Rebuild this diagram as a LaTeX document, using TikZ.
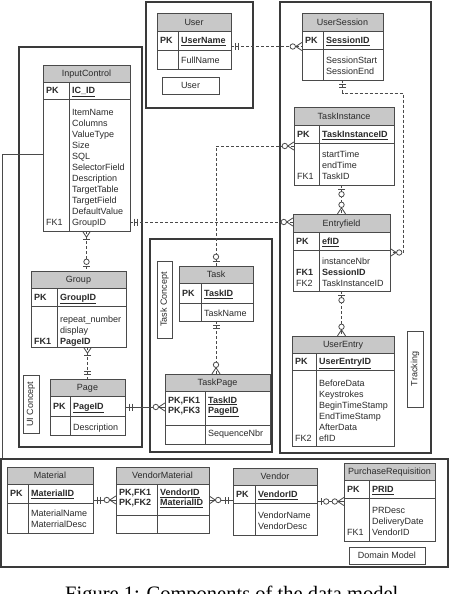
\documentclass[tikz,border=0pt]{standalone}
\usepackage{fontspec}
\setmainfont{Liberation Sans}
\newfontfamily\capfont{Liberation Serif}
\usepackage{graphicx}
\usetikzlibrary{fit,calc}
\definecolor{lc}{HTML}{4A4A4A}
\definecolor{hdr}{HTML}{C8C8C8}
\definecolor{cc}{HTML}{3A3A3A}
\definecolor{tc}{HTML}{2A2A2A}
\tikzset{
  eln/.style={draw=lc, line width=0.8pt},
  erl/.style={draw=lc, line width=0.8pt},
  dl/.style={draw=lc, line width=0.8pt, dash pattern=on 3pt off 2pt},
  sl/.style={draw=lc, line width=0.8pt},
  cont/.style={draw=cc, line width=1.2pt, inner sep=0pt},
  lbox/.style={draw=lc, line width=0.8pt, fill=white, inner sep=0pt, text=tc, font=\fontsize{9}{11}\selectfont},
  ttl/.style={inner sep=0pt, text=tc, font=\fontsize{9}{11}\selectfont},
  attr/.style={inner sep=0pt, text=tc, align=left, font=\fontsize{9}{11}\selectfont},
  keyt/.style={inner sep=0pt, text=tc, font=\bfseries\fontsize{9}{10}\selectfont},
  mone/.pic={\draw[erl] (4,-3.5)--(4,3.5) (7,-3.5)--(7,3.5);},
  zone/.pic={\draw[erl] (4,-3.5)--(4,3.5); \draw[erl,fill=white] (9,0) circle (2.7pt);},
  zmany/.pic={\draw[erl] (0,-4)--(6,0)--(0,4); \draw[erl,fill=white] (9,0) circle (2.7pt);},
  omany/.pic={\draw[erl] (0,-4)--(6,0)--(0,4); \draw[erl] (8,-3.5)--(8,3.5);},
}
\newcommand\erent[9]{%
  \node[inner sep=0pt, fit={(#2,#3)(#4,#5)}] (#1) {};
  \fill[hdr] (#2,#3) rectangle (#4,#6);
  \draw[eln] (#2,#6) -- (#4,#6) (#2,#7) -- (#4,#7) (#8,#6) -- (#8,#5);
  \draw[eln] (#2,#3) rectangle (#4,#5);
  \node[ttl, anchor=base] at ({(#2+#4)/2},{(#3+#6)/2+3.3}) {#9};
}
\newcommand\keyrow[5]{%
  \node[keyt, anchor=base west] at ({#1+3},{#3+3.3}) {#4};
  \node[keyt, anchor=base west] at ({#2+3},{#3+3.3}) {#5};
}
\newcommand\keytwo[5]{%
  \node[keyt, align=left, anchor=north west] at ({#1+3},{#3-3.7}) {\strut #4};
  \node[keyt, align=left, anchor=north west] at ({#2+3},{#3-3.7}) {\strut #5};
}
\newcommand\attrs[3]{\node[attr, anchor=north west] at (#1,{#2-4.4}) {\strut #3};}
\newcommand\fk[3]{\node[attr, anchor=base west] at (#1,{#2+3.3}) {#3};}
\begin{document}
\begin{tikzpicture}[x=1pt,y=-1pt]
\fill[white] (0,0) rectangle (474,594);
\useasboundingbox (0,0) rectangle (474,594);

% containers
\node[cont, fit={(146,2)(253,108)}] (cUser) {};
\node[cont, fit={(280,2)(431,453)}] (cTrack) {};
\node[cont, fit={(19,47)(142,447)}] (cUI) {};
\node[cont, fit={(150,239)(272,452)}] (cTask) {};
\node[cont, fit={(1,459)(448,567)}] (cDom) {};

% container labels
\node[lbox, minimum width=57pt, minimum height=17pt] (lUser) at (190.5,85.5) {User};
\node[lbox, minimum width=16pt, minimum height=76pt] (lTrack) at (415,369) {\rotatebox{90}{Tracking}};
\node[lbox, minimum width=16pt, minimum height=58pt] (lUI) at (31,404) {\rotatebox{90}{UI Concept}};
\node[lbox, minimum width=15pt, minimum height=77pt] (lTask) at (164.5,299.5) {\rotatebox{90}{Task Concept}};
\node[lbox, minimum width=76pt, minimum height=17pt] (lDom) at (387,555.5) {Domain Model};

% entities
\erent{user}{157}{13}{231}{69}{31}{50}{178}{User}
\keyrow{157}{178}{40.5}{PK}{\underline{UserName}}
\attrs{181}{60}{FullName}

\erent{us}{302}{13}{383}{80}{31}{49}{323}{UserSession}
\keyrow{302}{323}{40}{PK}{\underline{SessionID}}
\attrs{326}{60}{SessionStart\\SessionEnd}

\erent{ti}{294}{107}{394}{185}{125}{143}{319}{TaskInstance}
\keyrow{294}{319}{134}{PK}{\underline{TaskInstanceID}}
\attrs{322}{154}{startTime\\endTime\\TaskID}
\fk{297}{176}{FK1}

\erent{ef}{293}{214}{390}{291}{232}{250}{319}{Entryfield}
\keyrow{293}{319}{241}{PK}{\underline{efID}}
\attrs{322}{261}{instanceNbr\\\textbf{SessionID}\\TaskInstanceID}
\fk{296}{272}{\textbf{FK1}}
\fk{296}{283}{FK2}

\erent{ue}{292}{336}{394}{446}{353}{370}{316}{UserEntry}
\keyrow{292}{316}{361.5}{PK}{\underline{UserEntryID}}
\attrs{319}{383}{BeforeData\\Keystrokes\\BeginTimeStamp\\EndTimeStamp\\AfterData\\efID}
\fk{295}{438}{FK2}

\erent{ic}{43}{65}{130}{231}{82}{99}{69}{InputControl}
\keyrow{43}{69}{90.5}{PK}{\underline{IC\_ID}}
\attrs{72}{112}{ItemName\\Columns\\ValueType\\Size\\SQL\\SelectorField\\Description\\TargetTable\\TargetField\\DefaultValue\\GroupID}
\fk{46}{222}{FK1}

\erent{grp}{31}{271}{126}{347}{288}{306}{57}{Group}
\keyrow{31}{57}{297}{PK}{\underline{GroupID}}
\attrs{60}{319}{repeat\_number\\display\\\textbf{PageID}}
\fk{34}{341}{\textbf{FK1}}

\erent{page}{50}{379}{125}{435}{396}{416}{70}{Page}
\keyrow{50}{70}{406}{PK}{\underline{PageID}}
\attrs{73}{427}{Description}

\erent{task}{179}{266}{253}{321}{283}{303}{201}{Task}
\keyrow{179}{201}{293}{PK}{\underline{TaskID}}
\attrs{204}{313}{TaskName}

\erent{tp}{165}{374}{270}{444}{391}{425}{205}{TaskPage}
\keytwo{165}{205}{399.5}{PK,FK1\\PK,FK3}{\underline{TaskID}\\\underline{PageID}}
\attrs{208}{433}{SequenceNbr}

\erent{mat}{7}{467}{93}{533}{484}{503}{28}{Material}
\keyrow{7}{28}{493.5}{PK}{\underline{MaterialID}}
\attrs{31}{513}{MaterialName\\MaterrialDesc}

\erent{vm}{116}{467}{209}{533}{484}{515}{157}{VendorMaterial}
\keytwo{116}{157}{492}{PK,FK1\\PK,FK2}{\underline{VendorID}\\\underline{MaterialID}}

\erent{ven}{233}{468}{317}{535}{485}{503}{255}{Vendor}
\keyrow{233}{255}{494}{PK}{\underline{VendorID}}
\attrs{258}{515}{VendorName\\VendorDesc}

\erent{pr}{344}{463}{435}{541}{480}{498}{369}{PurchaseRequisition}
\keyrow{344}{369}{489}{PK}{\underline{PRID}}
\attrs{372}{510}{PRDesc\\DeliveryDate\\VendorID}
\fk{347}{532}{FK1}

% connectors
\draw[dl] (user.east |- us.west) -- (us.west);
\pic at (user.east |- us.west) {mone};
\pic[rotate=180] at (us.west) {zmany};

\coordinate (k1) at (403,93);
\draw[dl] (us.south) |- (k1) |- (ef.east);
\pic[rotate=270] at (us.south) {mone};
\pic at (ef.east) {zmany};

\draw[dl] (ef.north |- ti.south) -- (ef.north);
\pic[rotate=270] at (ef.north |- ti.south) {zone};
\pic[rotate=90] at (ef.north) {zmany};

\draw[dl] (task.north) |- (ti.west);
\pic[rotate=90] at (task.north) {zone};
\pic[rotate=180] at (ti.west) {zmany};

\coordinate (h5) at (0,222);
\draw[dl] (ic.east |- h5) -- (ef.west |- h5);
\pic at (ic.east |- h5) {mone};
\pic[rotate=180] at (ef.west |- h5) {zmany};

\draw[dl] (ic.south) -- (ic.south |- grp.north);
\pic[rotate=270] at (ic.south) {omany};
\pic[rotate=90] at (ic.south |- grp.north) {zone};

\draw[dl] (page.north |- grp.south) -- (page.north);
\pic[rotate=270] at (page.north |- grp.south) {omany};
\pic[rotate=90] at (page.north) {mone};

\draw[sl] (page.east) -- (page.east -| tp.west);
\pic at (page.east) {mone};
\pic[rotate=180] at (page.east -| tp.west) {zmany};

\draw[dl] (task.south) -- (task.south |- tp.north);
\pic[rotate=270] at (task.south) {mone};
\pic[rotate=90] at (task.south |- tp.north) {zmany};

\draw[dl] (ef.south) -- (ef.south |- ue.north);
\pic[rotate=270] at (ef.south) {zone};
\pic[rotate=90] at (ef.south |- ue.north) {zmany};

\coordinate (h11) at (0,154);
\draw[sl] (ic.west |- h11) -| ([xshift=2pt]cDom.north west);

\draw[sl] (mat.east) -- (mat.east -| vm.west);
\pic at (mat.east) {mone};
\pic[rotate=180] at (mat.east -| vm.west) {zmany};

\draw[sl] (vm.east) -- (vm.east -| ven.west);
\pic at (vm.east) {zmany};
\pic[rotate=180] at (vm.east -| ven.west) {mone};

\draw[sl] (ven.east) -- (ven.east -| pr.west);
\pic at (ven.east) {zone};
\pic[rotate=180] at (ven.east -| pr.west) {zmany};

% caption (cut by the page edge)
\node[inner sep=0pt, anchor=base west, text=black, font=\capfont\fontsize{20.5}{24}\selectfont] (cap) at (65,600) {Figure 1: Components of the data model};
\end{tikzpicture}
\end{document}
